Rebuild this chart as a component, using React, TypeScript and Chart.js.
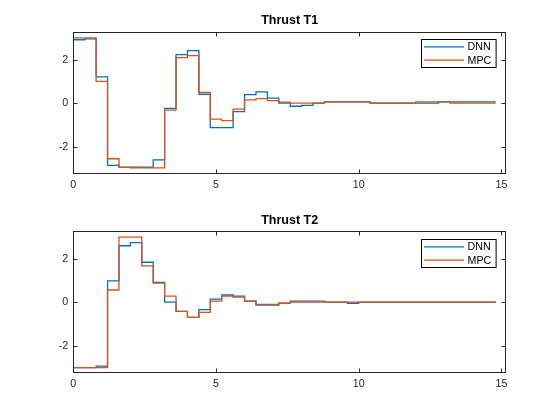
import React, { useRef, useEffect } from 'react'
import { Chart, registerables } from 'chart.js'

Chart.register(...registerables)

// sample times (s), stairs end at last sample
const time = [
	0, 0.4, 0.8, 1.2, 1.6, 2.0, 2.4, 2.8, 3.2, 3.6, 4.0, 4.4, 4.8, 5.2, 5.6, 6.0, 6.4, 6.8, 7.2,
	7.6, 8.0, 8.4, 8.8, 9.2, 9.6, 10.0, 10.4, 10.8, 11.2, 11.6, 12.0, 12.4, 12.8, 13.2, 13.6,
	14.0, 14.4, 14.8,
]

const t1Dnn = [
	2.91, 2.95, 1.21, -2.85, -2.93, -2.93, -2.93, -2.6, -0.24, 2.23, 2.41, 0.41, -1.12, -1.12,
	-0.39, 0.39, 0.52, 0.23, 0.0, -0.14, -0.1, 0.0, 0.06, 0.06, 0.06, 0.06, 0, 0, 0, 0, 0, 0,
	0.06, 0.06, 0.06, 0.06, 0.06,
]
const t1Mpc = [
	3.0, 3.0, 1.0, -2.55, -2.95, -2.97, -2.97, -2.97, -0.32, 2.09, 2.18, 0.5, -0.73, -0.8, -0.27,
	0.15, 0.21, 0.12, 0.05, 0, 0, 0, 0.06, 0.06, 0.06, 0.06, 0, 0, 0, 0, 0.06, 0.06, 0.06, 0, 0,
	0, 0,
]
const t2Dnn = [
	-3.02, -3.02, -2.95, 0.98, 2.6, 2.74, 1.84, 0.91, 0, -0.42, -0.7, -0.34, 0.14, 0.33, 0.28,
	0.05, -0.14, -0.14, -0.05, 0.05, 0.05, 0.05, 0, 0, -0.05, 0, 0, 0, 0, 0, 0, 0, 0, 0, 0, 0, 0,
]
const t2Mpc = [
	-3.02, -3.02, -3.02, 0.56, 3.0, 3.0, 1.67, 0.88, 0.28, -0.42, -0.7, -0.47, 0.05, 0.28, 0.23,
	0.05, -0.1, -0.1, -0.05, 0, 0, 0, 0, 0, 0, 0, 0, 0, 0, 0, 0, 0, 0, 0, 0, 0, 0,
]

const xTicks = [0, 5, 10, 15]
const yTicks = [-2, 0, 2]
const seriesLabels = ['DNN', 'MPC']
const seriesColors = ['#0072BD', '#D95319']

const FONT = "'Liberation Sans', Arial, Helvetica, sans-serif"
const AXIS_COLOR = '#262626'

const stairs = (values: number[]) =>
	time.map((t, i) => ({ x: t, y: values[Math.min(i, values.length - 1)] }))

// box, inward ticks, title and legend like a MATLAB axes
const matlabAxes = {
	id: 'matlabAxes',
	afterDraw(chart: any, _args: any, opts: any) {
		const { ctx, chartArea: a, scales } = chart
		const l = Math.round(a.left) + 0.5
		const r = Math.round(a.right) - 0.5
		const t = Math.round(a.top) + 0.5
		const b = Math.round(a.bottom) - 0.5
		ctx.save()

		// legend
		const lw = 74.6
		const lh = 28
		const lx = Math.round(a.right - 10.7 - lw) + 0.5
		const ly = Math.round(a.top + 7.6) + 0.5
		ctx.fillStyle = '#fff'
		ctx.fillRect(lx, ly, lw, lh)
		ctx.strokeStyle = '#000'
		ctx.lineWidth = 1
		ctx.strokeRect(lx, ly, lw, lh)
		chart.data.datasets.forEach((ds: any, i: number) => {
			const y = ly + 7.4 + i * 13.3
			ctx.strokeStyle = ds.borderColor
			ctx.lineWidth = 1.3
			ctx.beginPath()
			ctx.moveTo(lx + 2.5, y)
			ctx.lineTo(lx + 42.5, y)
			ctx.stroke()
			ctx.fillStyle = '#000'
			ctx.font = `10.7px ${FONT}`
			ctx.textBaseline = 'middle'
			ctx.textAlign = 'left'
			ctx.fillText(ds.label, lx + 46, y + 0.5)
		})

		// frame
		ctx.strokeStyle = AXIS_COLOR
		ctx.lineWidth = 1
		ctx.strokeRect(l, t, r - l, b - t)

		// inward ticks
		ctx.beginPath()
		xTicks.forEach(v => {
			const x = Math.round(scales.x.getPixelForValue(v)) + 0.5
			ctx.moveTo(x, b)
			ctx.lineTo(x, b - 4)
			ctx.moveTo(x, t)
			ctx.lineTo(x, t + 4)
		})
		yTicks.forEach(v => {
			const y = Math.round(scales.y.getPixelForValue(v)) + 0.5
			ctx.moveTo(l, y)
			ctx.lineTo(l + 4, y)
			ctx.moveTo(r, y)
			ctx.lineTo(r - 4, y)
		})
		ctx.stroke()

		// title
		ctx.fillStyle = '#000'
		ctx.font = `bold 12.5px ${FONT}`
		ctx.textAlign = 'center'
		ctx.textBaseline = 'alphabetic'
		ctx.fillText(opts.text, (a.left + a.right) / 2, a.top - 7.4)
		ctx.restore()
	},
}

interface PanelProps {
	title: string
	dnn: number[]
	mpc: number[]
	top: number
	padTop: number
	xAxisHeight: number
}

const Panel: React.FC<PanelProps> = ({ title, dnn, mpc, top, padTop, xAxisHeight }) => {
	const chartRef = useRef<HTMLCanvasElement | null>(null)

	useEffect(() => {
		if (!chartRef.current) return
		const tickFont = { family: FONT, size: 10.7 }
		const newChart = new Chart(chartRef.current, {
			type: 'line',
			data: {
				datasets: [dnn, mpc].map((values, i) => ({
					label: seriesLabels[i],
					data: stairs(values),
					borderColor: seriesColors[i],
					backgroundColor: 'transparent',
					borderWidth: 1.3,
					stepped: true,
					pointRadius: 0,
					fill: false,
					order: 2 - i,
				})),
			},
			options: {
				responsive: false,
				animation: false,
				events: [],
				layout: { padding: { top: padTop, left: 0, right: 54, bottom: 0 } },
				plugins: {
					legend: { display: false },
					tooltip: { enabled: false },
					matlabAxes: { text: title },
				} as any,
				scales: {
					x: {
						type: 'linear',
						min: 0,
						max: 15.16,
						grid: { display: false, drawTicks: false },
						border: { display: false },
						afterBuildTicks: (s: any) => {
							s.ticks = xTicks.map(v => ({ value: v }))
						},
						afterFit: (s: any) => {
							s.height = xAxisHeight
						},
						ticks: {
							color: AXIS_COLOR,
							font: tickFont,
							padding: 5,
							maxRotation: 0,
							autoSkip: false,
						},
					},
					y: {
						type: 'linear',
						min: -3.25,
						max: 3.28,
						grid: { display: false, drawTicks: false },
						border: { display: false },
						afterBuildTicks: (s: any) => {
							s.ticks = yTicks.map(v => ({ value: v }))
						},
						afterFit: (s: any) => {
							s.width = 73.3
						},
						ticks: {
							color: AXIS_COLOR,
							font: tickFont,
							padding: 5,
							autoSkip: false,
						},
					},
				},
			},
			plugins: [matlabAxes],
		})

		return () => {
			newChart.destroy()
		}
	}, [title, dnn, mpc, padTop, xAxisHeight])

	return (
		<canvas
			ref={chartRef}
			width={560}
			height={210}
			style={{ position: 'absolute', left: 0, top, width: 560, height: 210 }}
		/>
	)
}

export default function App() {
	return (
		<div
			style={{
				position: 'fixed',
				left: 0,
				top: 0,
				width: 560,
				height: 420,
				background: '#fff',
			}}
		>
			<Panel title="Thrust T1" dnn={t1Dnn} mpc={t1Mpc} top={0} padTop={31.7} xAxisHeight={36} />
			<Panel
				title="Thrust T2"
				dnn={t2Dnn}
				mpc={t2Mpc}
				top={210}
				padTop={21}
				xAxisHeight={47.3}
			/>
		</div>
	)
}
